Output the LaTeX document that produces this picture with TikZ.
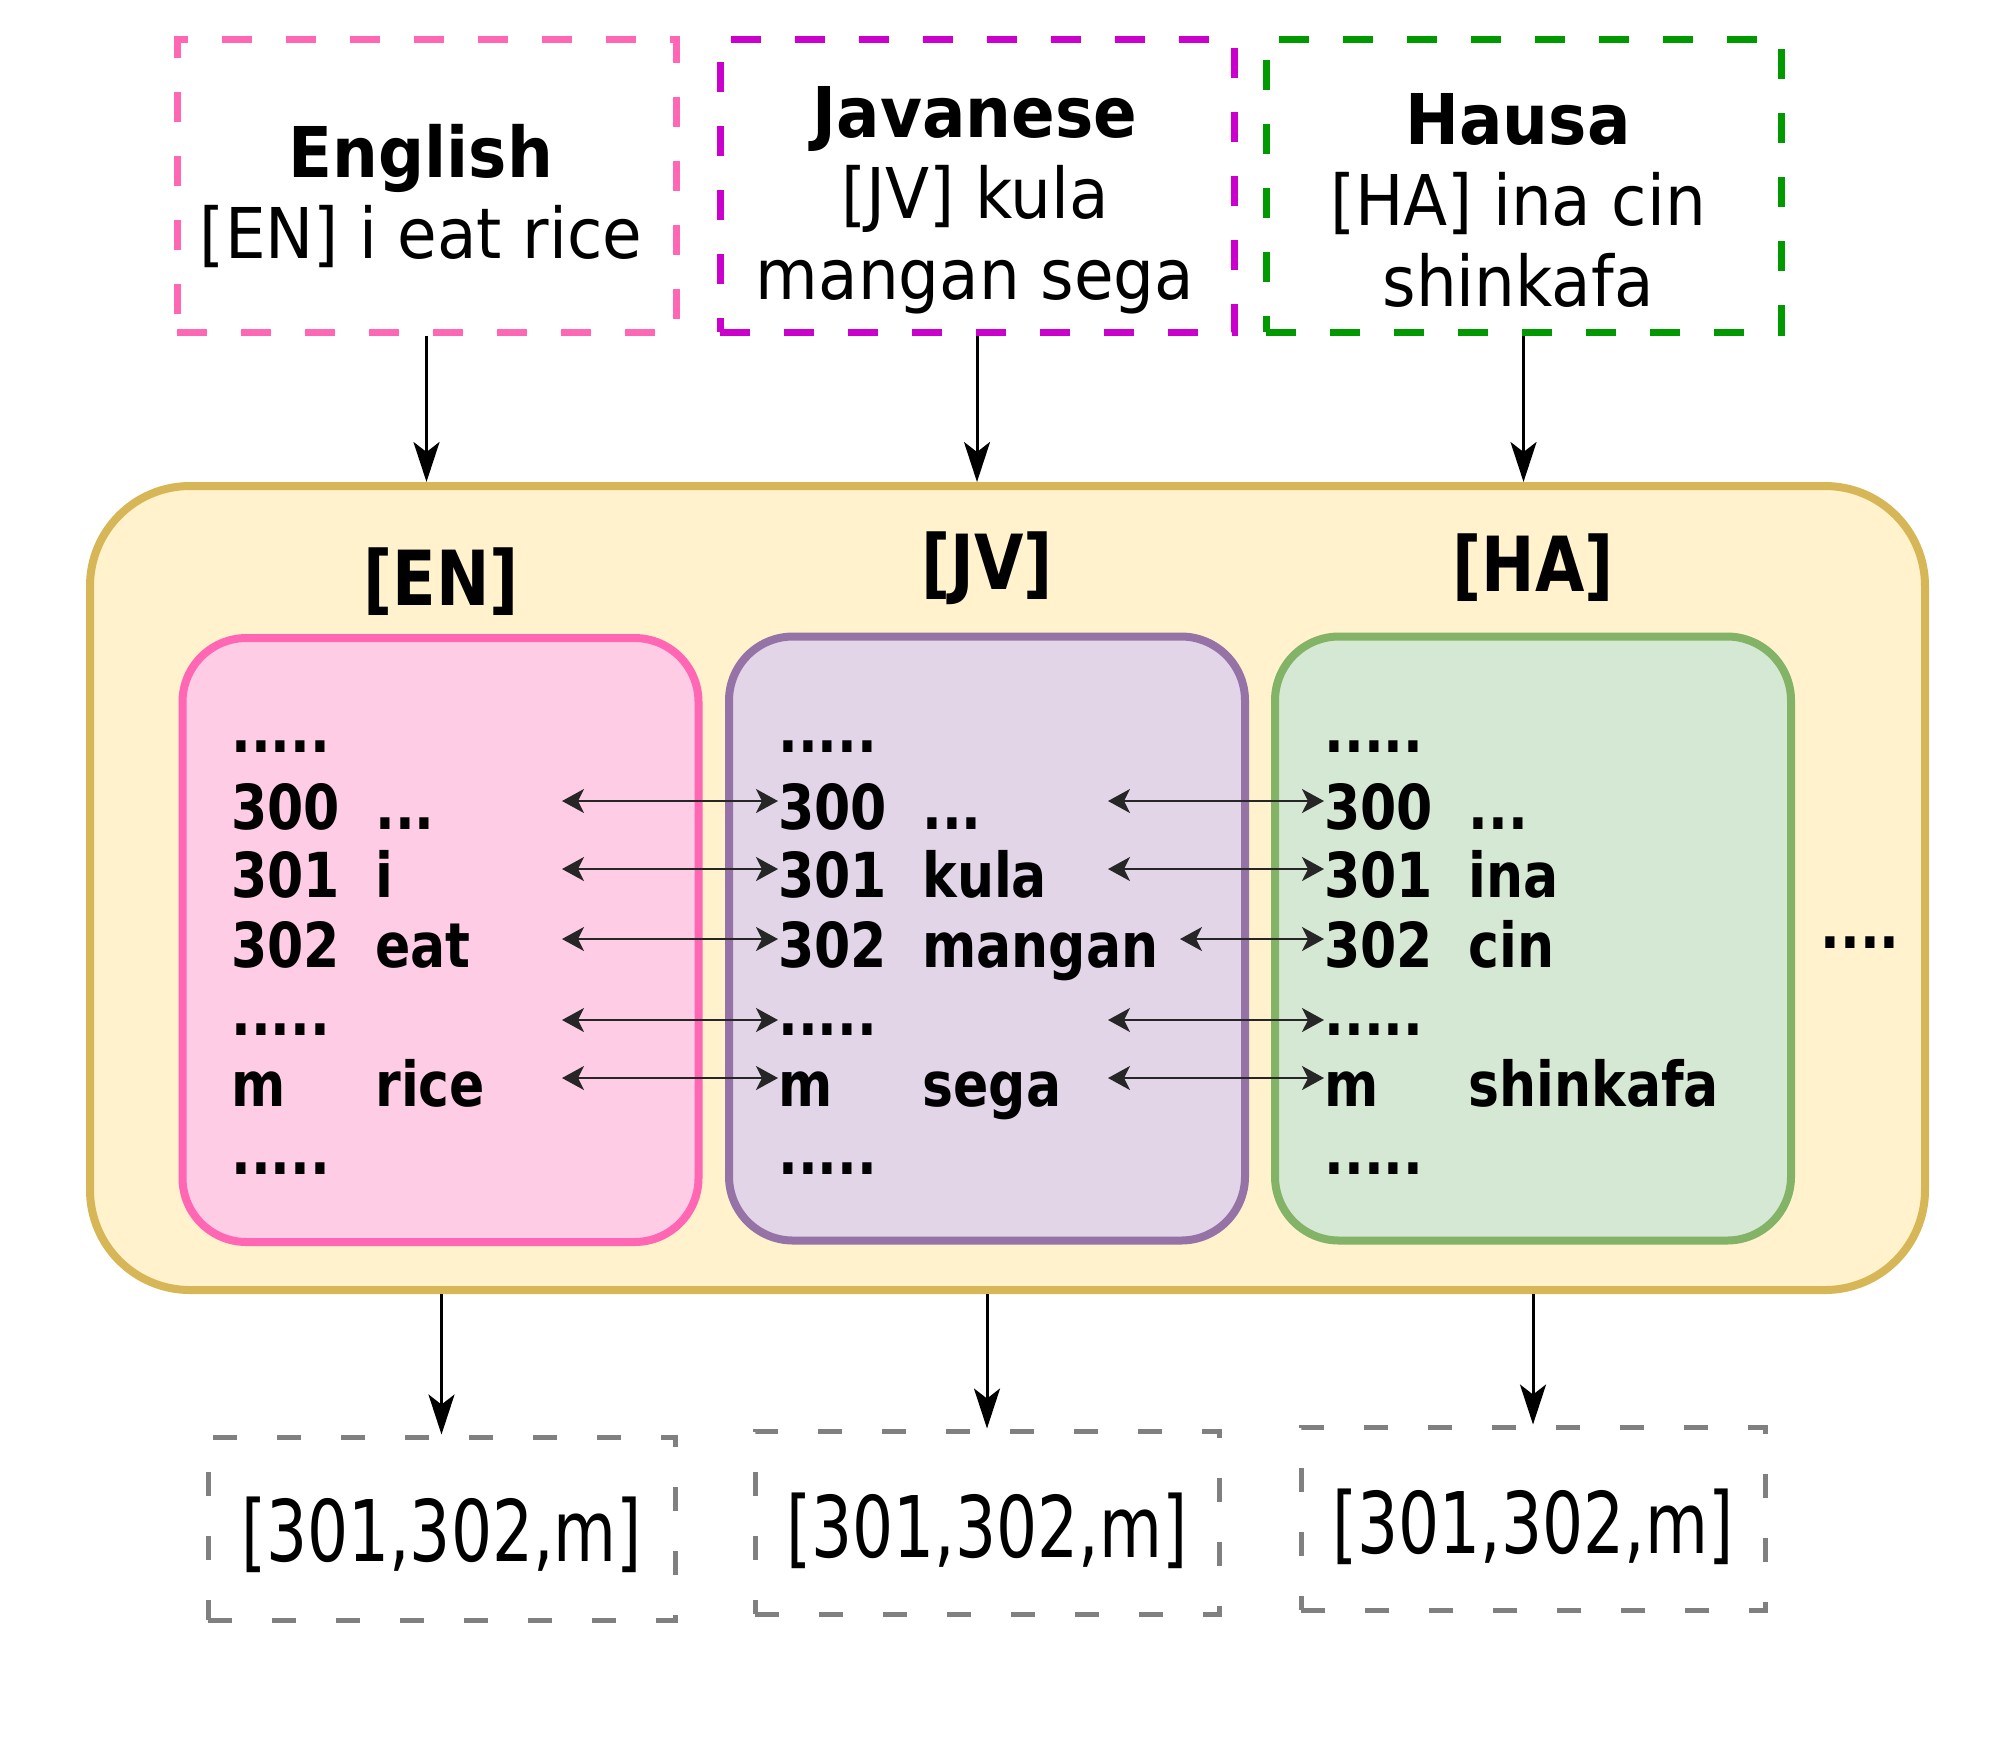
\documentclass[tikz,border=0pt]{standalone}
\usepackage{fontspec}
\setmainfont{DejaVu Sans}
\newfontfamily\topfont{DejaVu Sans}[FakeStretch=0.92]
\newfontfamily\rowfont{DejaVu Sans}[FakeStretch=0.84]
\newfontfamily\botfont{DejaVu Sans}[FakeStretch=0.76]
\usetikzlibrary{arrows.meta}
\definecolor{encol}{HTML}{FF66B3}
\definecolor{enfill}{HTML}{FFCCE6}
\definecolor{jvcol}{HTML}{CC00CC}
\definecolor{hacol}{HTML}{009900}
\definecolor{bigfill}{HTML}{FFF2CC}
\definecolor{bigdraw}{HTML}{D6B656}
\definecolor{pudraw}{HTML}{9673A6}
\definecolor{pufill}{HTML}{E1D5E7}
\definecolor{grdraw}{HTML}{82B366}
\definecolor{grfill}{HTML}{D5E8D4}
\definecolor{boxgray}{HTML}{808080}
\tikzset{
  topbox/.style={draw=#1, line width=3.5pt, dash pattern=on 15pt off 17pt, minimum height=146.5pt, inner sep=0pt},
  toptext/.style={align=center, inner sep=0pt, font=\topfont\fontsize{35pt}{40.5pt}\selectfont},
  bigbox/.style={draw=bigdraw, fill=bigfill, line width=4pt, rounded corners=50pt, minimum width=917.5pt, minimum height=402pt, inner sep=0pt},
  langbox/.style={line width=4pt, rounded corners=32pt, minimum width=258pt, minimum height=302pt, inner sep=0pt},
  langlabel/.style={inner sep=0pt, font=\rowfont\bfseries\fontsize{38pt}{44pt}\selectfont},
  rowtxt/.style={anchor=base west, inner sep=0pt, text height=28pt, text depth=0pt, font=\rowfont\bfseries\fontsize{31pt}{36pt}\selectfont},
  dotrow/.style={text height=15pt},
  botbox/.style={draw=boxgray, line width=2.5pt, dash pattern=on 12pt off 20pt, minimum width=232pt, minimum height=91.5pt, inner sep=0pt, font=\botfont\fontsize{42.5pt}{48pt}\selectfont},
  bottext/.style={inner sep=0pt, font=\botfont\fontsize{42.5pt}{48pt}\selectfont},
  downarrow/.style={line width=1.5pt, -{Stealth[length=20pt,width=13pt,inset=5pt]}},
  linkarrow/.style={line width=1pt, draw=black!85, {Stealth[length=11pt,width=12pt,inset=3pt]}-{Stealth[length=11pt,width=12pt,inset=3pt]}}
}
\begin{document}
\begin{tikzpicture}[x=0.5pt,y=-0.5pt]
\useasboundingbox (0,0) rectangle (2016,1746);
% top boxes
\node[topbox=encol, minimum width=249.5pt] (en) at (426.5,185.5) {};
\node[topbox=jvcol, minimum width=257pt] (jv) at (977,185.5) {};
\node[topbox=hacol, minimum width=257.5pt] (ha) at (1523.5,185.5) {};
\node[toptext] (ent) at (421,196) {\textbf{English}\\{}[EN] i eat rice};
\node[toptext] (jvt) at (975,200) {\textbf{Javanese}\\{}[JV] kula\\mangan sega};
\node[toptext] (hat) at (1518,200) {\textbf{Hausa}\\{}[HA] ina cin\\shinkafa};
% big box
\node[bigbox] (big) at (1007.5,888) {};
\draw[downarrow] (en.south) -- (en.south |- big.north);
\draw[downarrow] (jv.south) -- (jv.south |- big.north);
\draw[downarrow] (ha.south) -- (ha.south |- big.north);
% labels
\node[langlabel] (enl) at (441,582) {[EN]};
\node[langlabel] (jvl) at (987,568) {[JV]};
\node[langlabel] (hal) at (1533,568) {[HA]};
% language boxes
\node[langbox, draw=encol, fill=enfill] (enb) at (440.5,940) {};
\node[langbox, draw=pudraw, fill=pufill] (jvb) at (987,938.5) {};
\node[langbox, draw=grdraw, fill=grfill] (hab) at (1533,938.5) {};
% English rows
\node[rowtxt] (e0) at (231,752) {.....};
\node[rowtxt] (e1) at (231,829) {300};
\node[rowtxt] (e1w) at (375,829) {...};
\node[rowtxt] (e2) at (231,897) {301};
\node[rowtxt] (e2w) at (375,897) {i};
\node[rowtxt] (e3) at (231,967) {302};
\node[rowtxt] (e3w) at (375,967) {eat};
\node[rowtxt, dotrow] (e4) at (231,1035) {.....};
\node[rowtxt] (e5) at (231,1106) {m};
\node[rowtxt] (e5w) at (375,1106) {rice};
\node[rowtxt] (e6) at (231,1174) {.....};
% Javanese rows
\node[rowtxt] (j0) at (778,752) {.....};
\node[rowtxt] (j1) at (778,829) {300};
\node[rowtxt] (j1w) at (922,829) {...};
\node[rowtxt] (j2) at (778,897) {301};
\node[rowtxt] (j2w) at (922,897) {kula};
\node[rowtxt] (j3) at (778,967) {302};
\node[rowtxt] (j3w) at (922,967) {mangan};
\node[rowtxt, dotrow] (j4) at (778,1035) {.....};
\node[rowtxt] (j5) at (778,1106) {m};
\node[rowtxt] (j5w) at (922,1106) {sega};
\node[rowtxt] (j6) at (778,1174) {.....};
% Hausa rows
\node[rowtxt] (h0) at (1324,752) {.....};
\node[rowtxt] (h1) at (1324,829) {300};
\node[rowtxt] (h1w) at (1468,829) {...};
\node[rowtxt] (h2) at (1324,897) {301};
\node[rowtxt] (h2w) at (1468,897) {ina};
\node[rowtxt] (h3) at (1324,967) {302};
\node[rowtxt] (h3w) at (1468,967) {cin};
\node[rowtxt, dotrow] (h4) at (1324,1035) {.....};
\node[rowtxt] (h5) at (1324,1106) {m};
\node[rowtxt] (h5w) at (1468,1106) {shinkafa};
\node[rowtxt] (h6) at (1324,1174) {.....};
% link arrows
\coordinate (la) at (562,0);
\coordinate (lb) at (1108,0);
\coordinate (lc) at (1180,0);
\foreach \r in {1,2,3,4,5} {
  \draw[linkarrow] (la |- j\r.west) -- (j\r.west);
}
\foreach \r in {1,2,4,5} {
  \draw[linkarrow] (lb |- h\r.west) -- (h\r.west);
}
\draw[linkarrow] (lc |- h3.west) -- (h3.west);
% right dots
\node[rowtxt, anchor=base] (more) at (1860,948) {....};
% bottom boxes
\node[botbox, minimum width=233.5pt] (b1) at (441.5,1528.5) {};
\node[botbox] (b2) at (987,1522.5) {};
\node[botbox] (b3) at (1533,1518.5) {};
\node[bottext] (b1t) at (441.5,1535) {[301,302,m]};
\node[bottext] (b2t) at (987,1531) {[301,302,m]};
\node[bottext] (b3t) at (1533,1527) {[301,302,m]};
\draw[downarrow] (big.south -| b1.north) -- (b1.north);
\draw[downarrow] (big.south -| b2.north) -- (b2.north);
\draw[downarrow] (big.south -| b3.north) -- (b3.north);
\end{tikzpicture}
\end{document}
